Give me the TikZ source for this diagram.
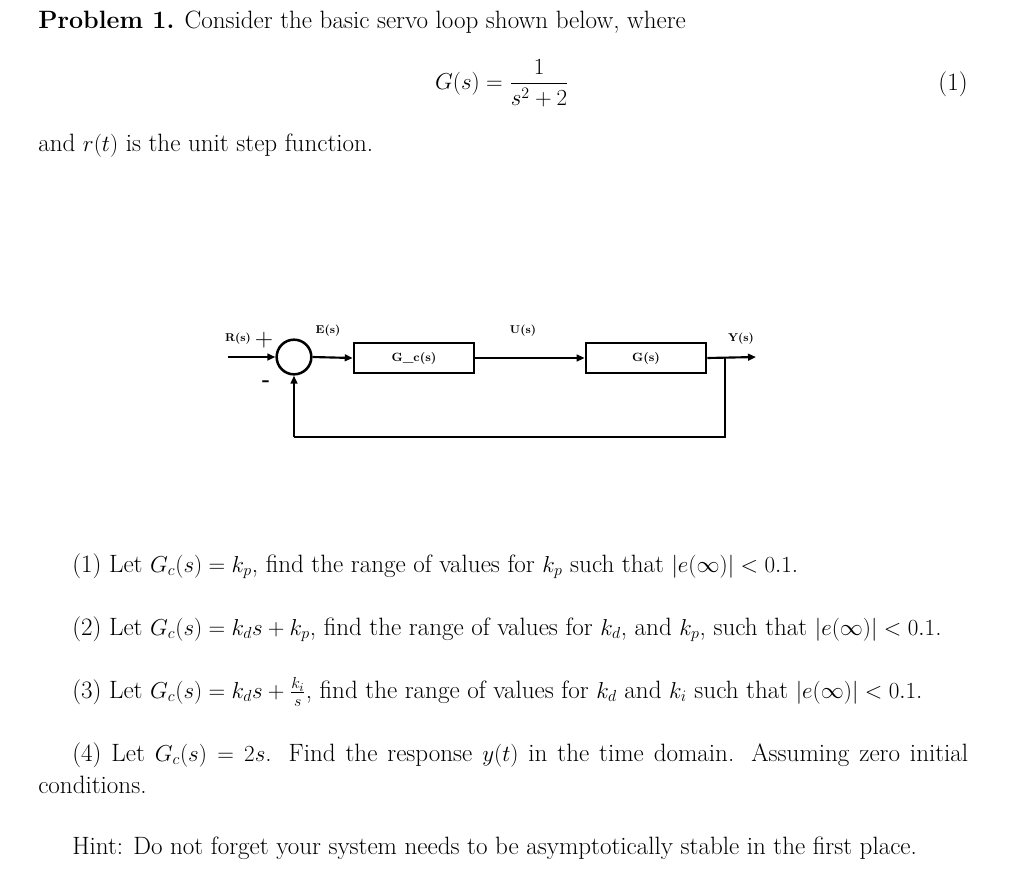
\documentclass[tikz,border=0pt]{standalone}
\usepackage{amsmath}
\usetikzlibrary{arrows.meta}
\begin{document}
\begin{tikzpicture}[x=0.75pt,y=-0.75pt,
  txt/.style={anchor=west,inner sep=0pt,font=\fontsize{18.8}{22}\selectfont},
  blk/.style={draw,line width=1.9pt,minimum width=90pt,minimum height=22.5pt,inner sep=0pt,font=\bfseries\fontsize{9}{10}\selectfont},
  lbl/.style={inner sep=0pt,font=\bfseries\fontsize{8.5}{10}\selectfont},
  wire/.style={line width=1.6pt},
  arr/.style={wire,-{Triangle[length=6pt,width=5pt]}}]
\useasboundingbox (0,0) rectangle (1024,868);
\node[txt] (t1) at (38,22) {\textbf{Problem 1.} Consider the basic servo loop shown below, where};
\node[inner sep=0pt,font=\fontsize{18.8}{22}\selectfont] (eq) at (502,83) {$G(s)=\dfrac{1}{s^2+2}$};
\node[inner sep=0pt,font=\fontsize{18.8}{22}\selectfont] (eqn) at (953,84) {(1)};
\node[txt] (t2) at (38,146) {and $r(t)$ is the unit step function.};
% diagram
\coordinate (in) at (228,357);
\node[draw,circle,line width=1.9pt,minimum size=26pt,inner sep=0pt] (sum) at (294,357) {};
\node[blk] (gc) at (414,358) {G\_c(s)};
\node[blk] (g) at (646,358) {G(s)};
\coordinate (br) at (725,357);
\coordinate (out) at (756,357);
\coordinate (c1) at (725,437);
\coordinate (c2) at (294,437);
\draw[arr] (in) -- (sum.west);
\draw[arr] (sum.east) -- (gc.west);
\draw[arr] (gc.east) -- (g.west);
\draw[arr] (g.east) -- (out);
\draw[wire] (br) -- (c1) -- (c2);
\draw[arr] (c2) -- (sum.south);
\node[lbl] (R) at (238,339) {R(s)};
\node[inner sep=0pt,font=\fontsize{19}{21}\selectfont] (plus) at (264,340) {+};
\node[inner sep=0pt,font=\bfseries\fontsize{16}{18}\selectfont] (minus) at (266,384) {-};
\node[lbl] (E) at (328,331) {E(s)};
\node[lbl] (U) at (523,331) {U(s)};
\node[lbl] (Y) at (741,339) {Y(s)};
% questions
\node[txt] (q1) at (72,566) {(1) Let $G_c(s)=k_p$, find the range of values for $k_p$ such that $|e(\infty)|<0.1$.};
\node[txt] (q2) at (72,629) {(2) Let $G_c(s)=k_ds+k_p$, find the range of values for $k_d$, and $k_p$, such that $|e(\infty)|<0.1$.};
\node[txt] (q3) at (72,692) {(3) Let $G_c(s)=k_ds+\frac{k_i}{s}$, find the range of values for $k_d$ and $k_i$ such that $|e(\infty)|<0.1$.};
\node[txt] (q4) at (72,755) {\makebox[672pt][s]{(4) Let $G_c(s)=2s$. Find the response $y(t)$ in the time domain. Assuming zero initial}};
\node[txt] (q4b) at (38,785) {conditions.};
\node[txt] (h) at (72,848) {Hint: Do not forget your system needs to be asymptotically stable in the first place.};
\end{tikzpicture}
\end{document}
